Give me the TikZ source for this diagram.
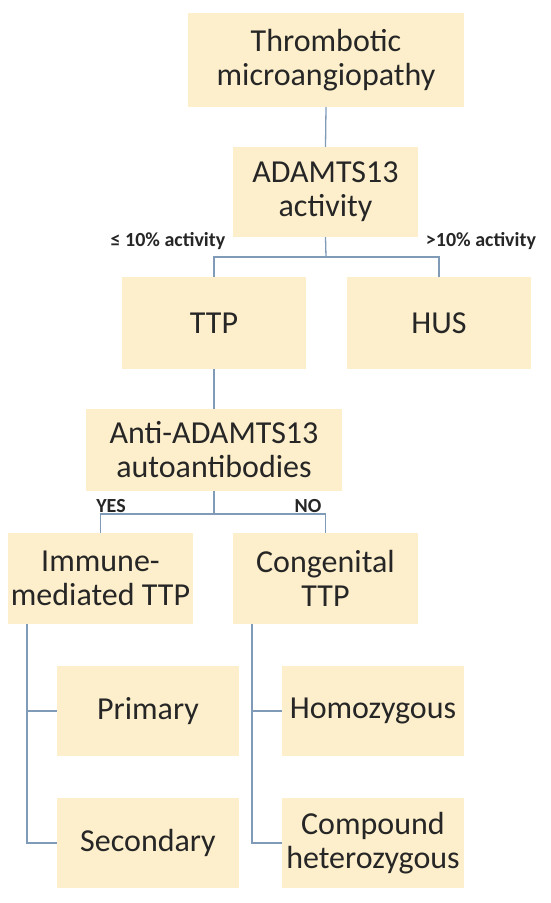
\documentclass[tikz,border=0pt]{standalone}
\usepackage{fontspec}
\setmainfont{Carlito}
\definecolor{boxfill}{HTML}{FDEFCB}
\definecolor{linecol}{HTML}{7F9BB8}
\definecolor{txt}{HTML}{262626}
\begin{document}
\begin{tikzpicture}[x=1pt,y=-1pt,
  box/.style={fill=boxfill,draw=none,inner sep=0pt,align=center,text=txt,
    font=\fontsize{32}{34}\selectfont,minimum width=#1},
  box/.default=184pt,
  conn/.style={draw=linecol,line width=1.3pt},
  lbl/.style={text=txt,font=\fontsize{20}{22}\bfseries\selectfont,inner sep=0pt}]
\useasboundingbox (0,0) rectangle (550,903);
% boxes
\node[box=276pt,minimum height=94pt] (tma) at (326,60) {Thrombotic\\microangiopathy};
\node[box=185pt,minimum height=90pt] (adam) at (325.5,192) {ADAMTS13\\activity};
\node[box=184pt,minimum height=92pt] (ttp) at (214,323) {TTP};
\node[box=184pt,minimum height=92pt] (hus) at (439,323) {HUS};
\node[box=256pt,minimum height=82pt] (anti) at (214,450) {Anti-ADAMTS13\\autoantibodies};
\node[box=185pt,minimum height=91pt] (imm) at (100.5,578.5) {Immune-\\mediated TTP};
\node[box=185pt,minimum height=91pt] (cong) at (325.5,578.5) {Congenital\\TTP};
\node[box=182pt,minimum height=90pt] (prim) at (148,711) {Primary};
\node[box=182pt,minimum height=90pt] (sec) at (148,843) {Secondary};
\node[box=182pt,minimum height=90pt] (homo) at (373,711) {Homozygous};
\node[box=182pt,minimum height=90pt] (comp) at (373,843) {Compound\\heterozygous};
% labels
\node[lbl] (l1) at (168,241) {≤ 10\% activity};
\node[lbl] (l2) at (481,241) {>10\% activity};
\node[lbl] (l3) at (111,506) {YES};
\node[lbl] (l4) at (308,506) {NO};
% junctions
\coordinate (j1) at (326,257);
\coordinate (j2) at (214,514);
\coordinate (limm) at (27,624);
\coordinate (lcong) at (252,624);
% connectors
\draw[conn] (tma.south) -- (adam.north);
\draw[conn] (adam.south) -- (j1);
\draw[conn] (j1) -| (ttp.north);
\draw[conn] (j1) -| (hus.north);
\draw[conn] (ttp.south) -- (anti.north);
\draw[conn] (anti.south) -- (j2);
\draw[conn] (j2) -| (imm.north);
\draw[conn] (j2) -| (cong.north);
\draw[conn] (limm) |- (sec.west);
\draw[conn] (limm |- prim.west) -- (prim.west);
\draw[conn] (lcong) |- (comp.west);
\draw[conn] (lcong |- homo.west) -- (homo.west);
\end{tikzpicture}
\end{document}
